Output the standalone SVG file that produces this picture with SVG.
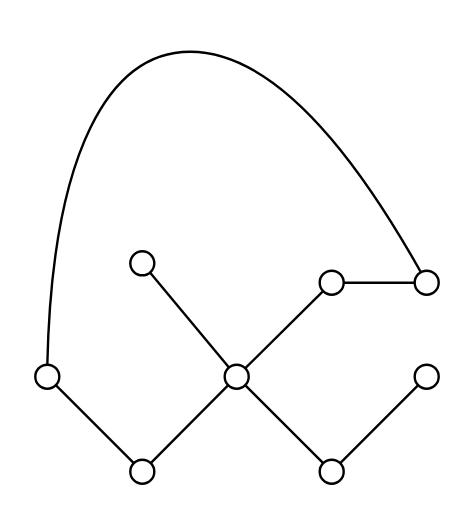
<svg xmlns="http://www.w3.org/2000/svg" width="474" height="517" viewBox="0 0 474 517">
<style>
.e{fill:none;stroke:#000;stroke-width:2.4}
.n{fill:#fff;stroke:#000;stroke-width:2.4}
</style>
<rect width="474" height="517" fill="#fff"/>
<g id="edges">
<line class="e" x1="142.3" y1="263.3" x2="236.7" y2="376.7"/>
<line class="e" x1="236.7" y1="376.7" x2="331.7" y2="282.7"/>
<line class="e" x1="331.7" y1="282.7" x2="426.7" y2="282.7"/>
<line class="e" x1="47.3" y1="376.7" x2="142.3" y2="471.7"/>
<line class="e" x1="142.3" y1="471.7" x2="236.7" y2="376.7"/>
<line class="e" x1="236.7" y1="376.7" x2="331.7" y2="471.7"/>
<line class="e" x1="331.7" y1="471.7" x2="426.7" y2="376.7"/>
<path class="e" d="M47.3,376.7 L47.3,365 C52,150 110,51.7 190,51.7 C285,51.7 371.7,182.7 426.7,282.7"/>
</g>
<g id="n1"><circle class="n" cx="142.3" cy="263.3" r="12"/></g>
<g id="n2"><circle class="n" cx="331.7" cy="282.7" r="12"/></g>
<g id="n3"><circle class="n" cx="426.7" cy="282.7" r="12"/></g>
<g id="n4"><circle class="n" cx="47.3" cy="376.7" r="12"/></g>
<g id="n5"><circle class="n" cx="236.7" cy="376.7" r="12"/></g>
<g id="n6"><circle class="n" cx="426.7" cy="376.7" r="12"/></g>
<g id="n7"><circle class="n" cx="142.3" cy="471.7" r="12"/></g>
<g id="n8"><circle class="n" cx="331.7" cy="471.7" r="12"/></g>
</svg>
